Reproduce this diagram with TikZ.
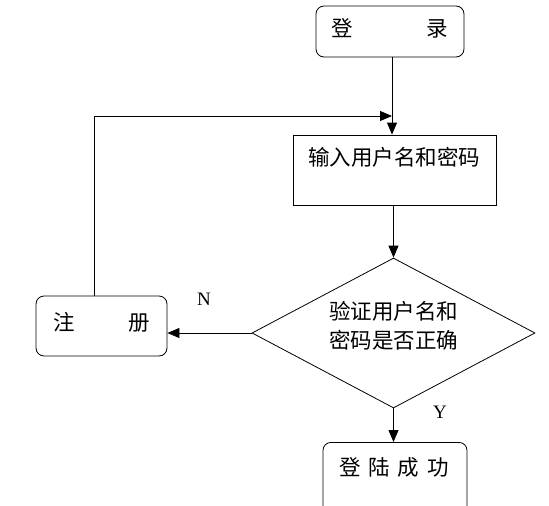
\documentclass[tikz,border=0pt]{standalone}
\usepackage{fontspec}
\setmainfont{Liberation Serif}
\newfontfamily\cjk{Noto Sans CJK SC}
\usetikzlibrary{shapes.geometric,arrows.meta}
\newcommand{\liftup}[2]{\raisebox{0pt}[\height][\dimexpr\depth+#1\relax]{#2}}
\begin{document}
\begin{tikzpicture}[x=1pt,y=-1pt,
  line width=0.8pt,
  every node/.style={inner sep=0pt},
  rbox/.style={draw, rounded corners=8pt, line width=0.8pt},
  sbox/.style={draw, line width=0.8pt},
  cjktext/.style={font=\cjk\fontsize{21.5}{29}\selectfont},
  yn/.style={font=\fontsize{19}{22}\selectfont},
  arr/.style={-{Triangle[length=12pt,width=10pt]}}]
\useasboundingbox (0,0) rectangle (549,506);
% nodes
\node[rbox, minimum width=148pt, minimum height=51pt, cjktext] (login) at (390,31.5)
  {\liftup{7pt}{\makebox[116.5pt]{登\hfill{}录}}};
\node[sbox, minimum width=203pt, minimum height=70pt] (input) at (394.5,170) {};
\node[cjktext] (inputtext) at (394,157) {输入用户名和密码};
\node[draw, diamond, minimum width=283pt, minimum height=150pt, shape aspect=1.89,
  line width=0.8pt, cjktext] (check) at (393.5,333)
  {\liftup{10pt}{\begin{tabular}{@{}c@{}}验证用户名和\\密码是否正确\end{tabular}}};
\node[rbox, minimum width=131pt, minimum height=60pt, cjktext] (reg) at (101.5,326)
  {\liftup{8pt}{\makebox[96.5pt]{注\hfill{}册}}};
\node[rbox, minimum width=144pt, minimum height=100pt, anchor=north] (ok) at (395,442) {};
\node[cjktext] (oktext) at (394,467) {\makebox[109.5pt]{登\hfill{}陆\hfill{}成\hfill{}功}};
\node[yn] (n) at (204,299) {N};
\node[yn] (y) at (440,412) {Y};
\coordinate (join) at (392,116);
% connectors
\draw[arr] (login.south -| join) -- (join |- input.north);
\draw[arr] ([xshift=-7.5pt]reg.north) |- (join);
\draw[arr] (input.south -| check.north) -- (check.north);
\draw[arr] (check.west) -- (check.west -| reg.east);
\draw[arr] (check.south) -- (check.south |- ok.north);
\end{tikzpicture}
\end{document}
